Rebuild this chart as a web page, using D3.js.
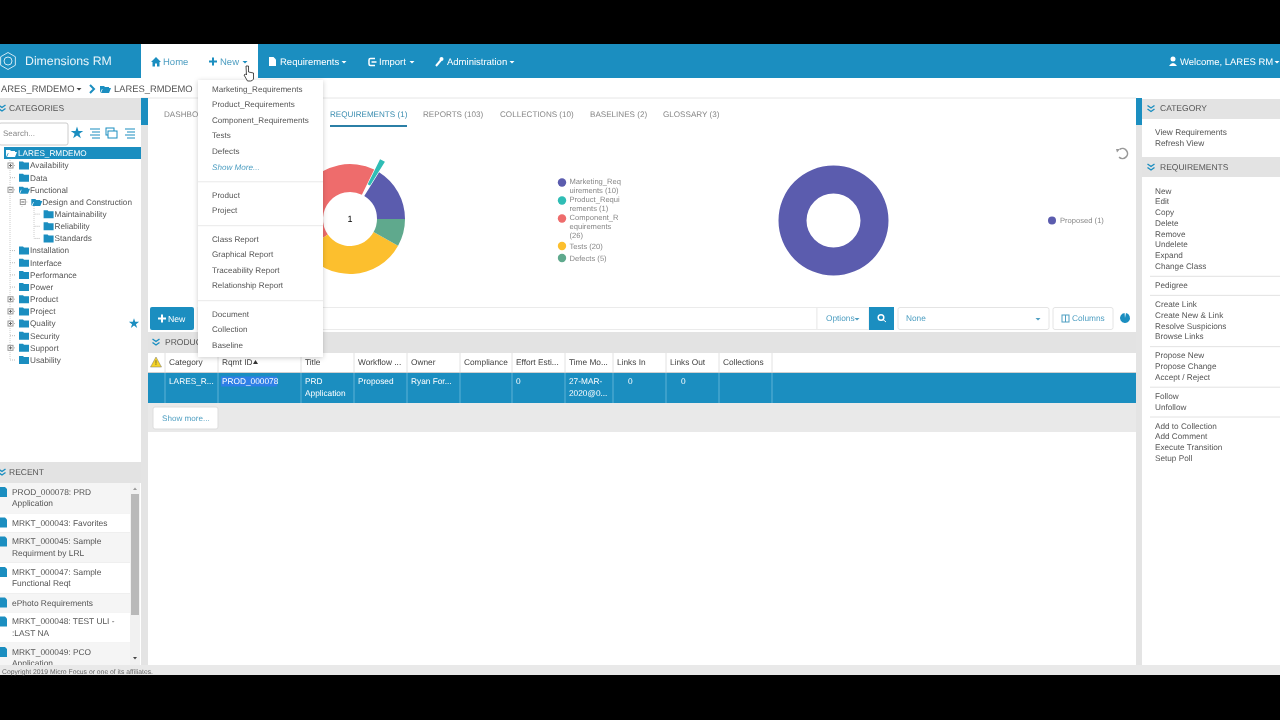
<!doctype html>
<meta charset="utf-8">
<title>Dimensions RM</title>
<style>
    html, body { margin: 0; background: black; }
    svg { display: block; font-family: "Liberation Sans", Arial, sans-serif; filter: blur(0.35px); text-rendering: geometricPrecision; }
</style>
<svg width="1280" height="720" viewBox="0 0 1280 720"></svg>
<script src="https://cdn.jsdelivr.net/npm/d3@7"></script>
<script>
    // chart values
    var reqNames = ['Marketing_Requirements', 'Product_Requirements', 'Component_Requirements', 'Tests', 'Defects'];
    var reqCounts = [10, 1, 26, 20, 5];
    var reqColors = ['#5b5cae', '#2fbdb5', '#ee6c6c', '#fcbf2e', '#5fa98d'];
    var reqLegend = [['Marketing_Req', 'uirements (10)'], ['Product_Requi', 'rements (1)'], ['Component_R', 'equirements', '(26)'], ['Tests (20)'], ['Defects (5)']];
    var stateNames = ['Proposed'];
    var stateCounts = [1];
    var stateColors = ['#5b5cae'];

    // page text
    var navItems = ['Requirements', 'Import', 'Administration'];
    var tabs = ['REQUIREMENTS (1)', 'REPORTS (103)', 'COLLECTIONS (10)', 'BASELINES (2)', 'GLOSSARY (3)'];
    var treeLabels = ['Availability', 'Data', 'Functional', 'Design and Construction', 'Maintainability', 'Reliability', 'Standards', 'Installation', 'Interface', 'Performance', 'Power', 'Product', 'Project', 'Quality', 'Security', 'Support', 'Usability'];
    var treeDepth = [1, 1, 1, 2, 3, 3, 3, 1, 1, 1, 1, 1, 1, 1, 1, 1, 1];
    var treeExpand = ['+', '', '-', '-', '', '', '', '', '', '', '', '+', '+', '+', '', '+', ''];
    var recentLines = [['PROD_000078: PRD', 'Application'], ['MRKT_000043: Favorites'], ['MRKT_000045: Sample', 'Requirment by LRL'], ['MRKT_000047: Sample', 'Functional Reqt'], ['ePhoto Requirements'], ['MRKT_000048: TEST ULI -', ':LAST NA'], ['MRKT_000049: PCO', 'Application']];
    var menuGroups = [
        ['Marketing_Requirements', 'Product_Requirements', 'Component_Requirements', 'Tests', 'Defects', 'Show More...'],
        ['Product', 'Project'],
        ['Class Report', 'Graphical Report', 'Traceability Report', 'Relationship Report'],
        ['Document', 'Collection', 'Baseline']
    ];
    var actionGroups = [
        ['New', 'Edit', 'Copy', 'Delete', 'Remove', 'Undelete', 'Expand', 'Change Class'],
        ['Pedigree'],
        ['Create Link', 'Create New & Link', 'Resolve Suspicions', 'Browse Links'],
        ['Propose New', 'Propose Change', 'Accept / Reject'],
        ['Follow', 'Unfollow'],
        ['Add to Collection', 'Add Comment', 'Execute Transition', 'Setup Poll']
    ];
    var columns = ['Category', 'Rqmt ID', 'Title', 'Workflow ...', 'Owner', 'Compliance', 'Effort Esti...', 'Time Mo...', 'Links In', 'Links Out', 'Collections'];
    var columnEdges = [165, 218, 301, 354, 407, 460, 512, 565, 613, 666, 719, 772];
    var rowCells = [['LARES_R...'], ['PROD_000078'], ['PRD', 'Application'], ['Proposed'], ['Ryan For...'], [''], ['0'], ['27-MAR-', '2020@0...'], ['0'], ['0'], ['']];

    var blue = '#1b8ec0';
    var grey = '#e3e3e3';
    var ink = '#555';
    var svg = d3.select('svg');

    function rect(g, x, y, w, h, fill, stroke) {
        return g.append('rect').attr('x', x).attr('y', y).attr('width', w).attr('height', h)
            .attr('fill', fill).attr('stroke', stroke || 'none');
    }

    function text(g, x, y, s, size, fill, anchor) {
        return g.append('text').attr('x', x).attr('y', y).attr('dy', '0.35em')
            .attr('font-size', size).attr('fill', fill || ink)
            .attr('text-anchor', anchor || 'start').text(s);
    }

    function line(g, x1, y1, x2, y2, color) {
        return g.append('line').attr('x1', x1).attr('y1', y1).attr('x2', x2).attr('y2', y2)
            .attr('stroke', color || '#ddd');
    }

    function caret(g, x, y, color) {
        g.append('path').attr('d', 'M' + (x - 2.5) + ',' + (y - 1) + 'h5l-2.5,2.5z').attr('fill', color);
    }

    function folder(g, x, y, open, color) {
        g.append('path').attr('fill', color || blue)
            .attr('d', open
                ? 'M' + x + ',' + (y + 4) + 'v-7h4l1,1h4v2h-7l-2,4zM' + (x + 1) + ',' + (y + 4) + 'l2,-5h8l-2,5z'
                : 'M' + x + ',' + (y + 4) + 'v-8h4l1,1h5v7z');
    }

    function chevrons(g, x, y) {
        g.append('path').attr('fill', 'none').attr('stroke', blue).attr('stroke-width', 1.4)
            .attr('d', 'M' + (x - 3.5) + ',' + (y - 3) + 'l3.5,2.5l3.5,-2.5M' + (x - 3.5) + ',' + (y + 0.5) + 'l3.5,2.5l3.5,-2.5');
    }

    function plus(g, x, y, color) {
        g.append('path').attr('stroke', color).attr('stroke-width', 2)
            .attr('d', 'M' + (x - 4) + ',' + y + 'h8M' + x + ',' + (y - 4) + 'v8');
    }

    function star(g, x, y, r) {
        g.append('path').attr('fill', blue).attr('transform', 'translate(' + x + ',' + y + ')')
            .attr('d', d3.symbol(d3.symbolStar, r * r * 3)());
    }

    function listIcon(g, x, y) {
        g.append('path').attr('stroke', blue).attr('stroke-width', 1.2)
            .attr('d', d3.range(4).map(function (i) {
                return 'M' + (x - 5 + (i % 2) * 2) + ',' + (y - 4 + i * 3) + 'h' + (10 - (i % 2) * 2);
            }).join(''));
    }

    // page background
    rect(svg, 0, 0, 1280, 720, 'black');
    rect(svg, 0, 44, 1280, 631, 'white');

    // top bar
    var topBar = svg.append('g');
    rect(topBar, 0, 44, 1280, 34, blue);
    rect(topBar, 141, 44, 117, 34, 'white');
    topBar.append('path').attr('fill', 'none').attr('stroke', '#cfe8f3').attr('transform', 'translate(8,61)')
        .attr('d', d3.line()(d3.range(7).map(function (i) {
            var a = i * Math.PI / 3;
            return [8.5 * Math.sin(a), -8.5 * Math.cos(a)];
        })));
    topBar.append('circle').attr('cx', 8).attr('cy', 61).attr('r', 4).attr('fill', 'none').attr('stroke', '#cfe8f3');
    text(topBar, 25, 61, 'Dimensions RM', 12.3, '#e8f4f9');
    topBar.append('path').attr('fill', blue).attr('d', 'M151,62l5,-5l5,5h-1.5v4.5h-2.5v-3h-2v3h-2.5v-4.5z');
    text(topBar, 163, 61.5, 'Home', 9.5, '#4f9fc2');
    plus(topBar, 213, 61.5, blue);
    text(topBar, 220, 61.5, 'New', 9.5, '#4f9fc2');
    caret(topBar, 245, 62, blue);
    [280, 379, 447].forEach(function (x, i) {
        text(topBar, x, 61.5, navItems[i], 9.5, 'white');
        caret(topBar, x + [64, 33, 65][i], 62, 'white');
    });
    topBar.append('path').attr('fill', 'white').attr('d', 'M269,57h4.5l2.5,2.5v6.5h-7z');
    topBar.append('path').attr('fill', 'none').attr('stroke', 'white').attr('stroke-width', 1.5)
        .attr('d', 'M375,58.5h-4.5a1.5,1.5 0 0 0 -1.5,1.5v4a1.5,1.5 0 0 0 1.5,1.5h4.5M371.5,62h5');
    topBar.append('path').attr('stroke', 'white').attr('stroke-width', 2).attr('d', 'M436,66l5,-6');
    topBar.append('circle').attr('cx', 441.5).attr('cy', 59).attr('r', 2).attr('fill', 'white');
    topBar.append('circle').attr('cx', 1173).attr('cy', 59).attr('r', 2.5).attr('fill', 'white');
    topBar.append('path').attr('d', 'M1169,66q4,-6 8,0z').attr('fill', 'white');
    text(topBar, 1180, 61.5, 'Welcome, LARES RM', 9.5, 'white');
    caret(topBar, 1277, 62, 'white');

    // breadcrumb
    var crumb = svg.append('g');
    text(crumb, 1, 89, 'ARES_RMDEMO', 9.4, ink);
    caret(crumb, 79, 89, '#444');
    crumb.append('path').attr('fill', 'none').attr('stroke', blue).attr('stroke-width', 2).attr('d', 'M90,85l4,4l-4,4');
    folder(crumb, 100, 89, true);
    text(crumb, 114, 89, 'LARES_RMDEMO', 9.4, ink);
    line(crumb, 141, 98, 1136, 98, '#e6e6e6');

    // gutters either side of the main area
    rect(svg, 141, 98, 7, 570, '#e4e4e4');
    rect(svg, 1136, 98, 6, 570, '#e4e4e4');
    rect(svg, 141, 98, 7, 27, blue);
    rect(svg, 1136, 98, 6, 27, blue);

    // categories panel
    var left = svg.append('g');
    rect(left, 0, 98, 141, 22, grey);
    chevrons(left, 2, 108);
    text(left, 9, 108.5, 'CATEGORIES', 8.5, ink);
    rect(left, -1, 123, 69, 22, 'white', '#ccc').attr('rx', 2);
    text(left, 3, 133, 'Search...', 8, '#888');
    star(left, 77, 133, 4);
    listIcon(left, 95, 133);
    rect(left, 106, 128, 8, 7, 'none', blue);
    rect(left, 108, 131, 9, 7, 'white', blue);
    listIcon(left, 130, 133);
    rect(left, 4, 147, 137, 12, blue);
    folder(left, 6, 153, true, 'white');
    text(left, 18, 153.5, 'LARES_RMDEMO', 8.2, 'white');

    var treeY = d3.scaleLinear().domain([0, treeLabels.length - 1]).range([165.5, 360]);
    line(left, 10, 160, 10, 360, '#ccc').attr('stroke-dasharray', '1,1');
    line(left, 22, treeY(3), 22, treeY(3) + 6, '#ccc').attr('stroke-dasharray', '1,1');
    line(left, 34, treeY(3) + 4, 34, treeY(6), '#ccc').attr('stroke-dasharray', '1,1');
    treeLabels.forEach(function (label, i) {
        var x = 30 + (treeDepth[i] - 1) * 12.3;
        var y = treeY(i);
        line(left, x - 20, y, x - 14, y, '#bbb').attr('stroke-dasharray', '1,1');
        if (treeExpand[i]) {
            rect(left, x - 22, y - 2.5, 5, 5, 'white', '#999');
            line(left, x - 21, y, x - 18, y, '#666');
            if (treeExpand[i] === '+') line(left, x - 19.5, y - 1.5, x - 19.5, y + 1.5, '#666');
        }
        folder(left, x - 11, y, i === 2 || i === 3);
        text(left, x, y, label, 8.2, ink);
    });
    star(left, 134, treeY(13), 3.3);

    // recent panel
    var recent = svg.append('g');
    rect(recent, 0, 462, 141, 21, grey);
    chevrons(recent, 2, 472);
    text(recent, 9, 472, 'RECENT', 8.5, ink);
    var rowY = 483;
    recentLines.forEach(function (lines, i) {
        var h = lines.length === 2 ? 30.5 : 19;
        rect(recent, 0, rowY, 130, h, i % 2 ? 'white' : '#f5f5f5');
        line(recent, 0, rowY + h, 130, rowY + h, '#e8e8e8');
        recent.append('path').attr('fill', blue).attr('d', 'M0,' + (rowY + 4) + 'h5l2,2v8h-7z');
        lines.forEach(function (s, j) {
            text(recent, 12, rowY + (lines.length === 2 ? 9 : 9.5) + j * 11.5, s, 8.4, ink);
        });
        rowY += h;
    });
    rect(recent, 130, 483, 10, 182, '#f1f1f1');
    rect(recent, 131, 494, 8, 121, '#b9b9b9');
    recent.append('path').attr('fill', '#999').attr('d', 'M133,490l2,-2.5l2,2.5z');
    recent.append('path').attr('fill', '#444').attr('d', 'M133,657l2,2.5l2,-2.5z');

    // bottom strip
    rect(svg, 0, 665, 1280, 10, '#e9e9e9');
    text(svg, 2, 671.5, 'Copyright 2019 Micro Focus or one of its affiliates.', 6.8, '#666');

    // tabs
    var tabBar = svg.append('g');
    text(tabBar, 164, 114, 'DASHBO', 8.1, '#888');
    [330, 423, 500, 590, 663].forEach(function (x, i) {
        text(tabBar, x, 114, tabs[i], 8.1, i === 0 ? '#3b8db0' : '#888');
    });
    rect(tabBar, 330, 125, 77, 2, '#2b7fa6');

    // donut charts
    var arc = d3.arc().innerRadius(27).outerRadius(55);
    var pie = d3.pie().sort(null).startAngle(Math.PI / 2).endAngle(Math.PI / 2 - 2 * Math.PI);

    var reqChart = svg.append('g').attr('transform', 'translate(350,219)');
    reqChart.selectAll('path').data(pie(reqCounts)).enter().append('path')
        .attr('d', arc)
        .attr('fill', function (d, i) { return reqColors[i]; })
        .attr('transform', function (d, i) {
            if (i !== 1) return null; // the hovered slice sits out of the ring
            var mid = (d.startAngle + d.endAngle) / 2;
            return 'translate(' + 12 * Math.sin(mid) + ',' + (-12 * Math.cos(mid)) + ')';
        });
    text(reqChart, 0, 0, d3.format('d')(stateCounts[0]), 9, 'black', 'middle');

    var legend = svg.append('g');
    var legendY = 181;
    reqLegend.forEach(function (lines, i) {
        legend.append('circle').attr('cx', 562).attr('cy', i < 3 ? legendY + 1.5 : legendY).attr('r', 4.2).attr('fill', reqColors[i]);
        lines.forEach(function (s, j) {
            text(legend, 569.5, legendY + j * 9, s, 7.6, '#888');
        });
        legendY += lines.length * 9 + (i === 2 ? 2 : (i === 3 ? 3 : 0));
    });

    var stateChart = svg.append('g').attr('transform', 'translate(833.5,220.5)');
    stateChart.selectAll('path').data(pie(stateCounts)).enter().append('path')
        .attr('d', arc)
        .attr('fill', function (d, i) { return stateColors[i]; });
    legend.append('circle').attr('cx', 1052).attr('cy', 220.5).attr('r', 4).attr('fill', stateColors[0]);
    text(legend, 1060, 220, stateNames[0] + ' (' + stateCounts[0] + ')', 7.6, '#888');

    svg.append('path').attr('fill', 'none').attr('stroke', '#999').attr('stroke-width', 1.6)
        .attr('d', d3.arc().innerRadius(5).outerRadius(5).startAngle(-0.6).endAngle(3.9)())
        .attr('transform', 'translate(1122.5,153.5)');
    svg.append('path').attr('fill', '#999').attr('d', 'M1116,149l4,0l-3,3.5z');

    // toolbar
    var bar = svg.append('g');
    rect(bar, 150, 307, 44, 23, blue).attr('rx', 2);
    plus(bar, 162, 318.5, 'white');
    text(bar, 168, 318.5, 'New', 8.7, 'white');
    rect(bar, 198, 307.5, 619, 22, 'white', '#ebebeb');
    rect(bar, 817, 307.5, 52, 22, 'white', '#ebebeb');
    text(bar, 826, 318.5, 'Options', 8.3, '#4f9fc2');
    caret(bar, 857, 319, '#4f9fc2');
    rect(bar, 869, 307, 25, 23, blue);
    bar.append('circle').attr('cx', 881).attr('cy', 317.5).attr('r', 2.8).attr('fill', 'none').attr('stroke', 'white').attr('stroke-width', 1.5);
    line(bar, 883, 319.5, 886, 322, 'white');
    rect(bar, 898, 307.5, 151, 22, 'white', '#e4e4e4').attr('rx', 2);
    text(bar, 906, 318.5, 'None', 8.3, '#4f9fc2');
    caret(bar, 1038, 319, '#4f9fc2');
    rect(bar, 1053, 307.5, 60, 22, 'white', '#e4e4e4').attr('rx', 2);
    rect(bar, 1062, 315, 7, 7, 'none', '#4f9fc2');
    line(bar, 1065.5, 315, 1065.5, 322, '#4f9fc2');
    text(bar, 1072, 318.5, 'Columns', 8.3, '#4f9fc2');
    bar.append('path').attr('fill', blue).attr('transform', 'translate(1125,318)')
        .attr('d', d3.arc().innerRadius(0).outerRadius(5).startAngle(0.2).endAngle(6.2)());

    // results table
    var table = svg.append('g');
    rect(table, 148, 332, 988, 21, grey);
    chevrons(table, 156, 342);
    text(table, 165, 342, 'PRODUC', 8.5, ink);
    rect(table, 148, 353, 988, 20, 'white');
    rect(table, 148, 373, 988, 30, blue);
    rect(table, 148, 403, 988, 29, '#e9e9e9');
    table.append('path').attr('d', 'M156,357l5.5,10h-11z').attr('fill', '#f5d327').attr('stroke', '#777').attr('stroke-width', 0.5);
    text(table, 156, 363, '!', 7, '#333', 'middle');
    columnEdges.forEach(function (x) {
        line(table, x, 353, x, 373, '#e2e2e2');
        line(table, x, 373, x, 403, '#5fb2d6');
    });
    line(table, 148, 372.5, 1136, 372.5, '#d0d0d0');
    columns.forEach(function (name, i) {
        var x = columnEdges[i] + 4;
        text(table, x, 362, name, 8.3, '#444');
        var pad = (i === 8 || i === 9) ? 11 : 0;
        if (i === 1) rect(table, x - 1, 376.5, 56, 10, '#2f7fe6');
        rowCells[i].forEach(function (s, j) {
            text(table, x + pad, 381.5 + j * 11.5, s, 8.3, 'white');
        });
    });
    table.append('path').attr('d', 'M253,364l2.5,-4l2.5,4z').attr('fill', '#333');
    rect(table, 153, 407, 65, 22, 'white', '#ddd').attr('rx', 2);
    text(table, 162, 418, 'Show more...', 8.1, '#4f9fc2');

    // right action panel
    var right = svg.append('g');
    rect(right, 1142, 99, 138, 20, grey);
    chevrons(right, 1151, 108.5);
    text(right, 1160, 108.5, 'CATEGORY', 8.5, ink);
    text(right, 1155, 132.5, 'View Requirements', 8.3, ink);
    text(right, 1155, 143.5, 'Refresh View', 8.3, ink);
    rect(right, 1142, 157, 138, 20, grey);
    chevrons(right, 1151, 167);
    text(right, 1160, 167, 'REQUIREMENTS', 8.5, ink);
    var actionY = 190.8;
    actionGroups.forEach(function (group, i) {
        group.forEach(function (s) {
            text(right, 1155, actionY, s, 8.2, ink);
            actionY += 10.75;
        });
        if (i < actionGroups.length - 1) {
            line(right, 1150, actionY - 0.5, 1280, actionY - 0.5, '#e2e2e2');
            actionY += 8.3;
        }
    });

    // open "New" menu, drawn last so it covers the first donut
    var menu = svg.append('g');
    var shadow = svg.append('defs').append('filter').attr('id', 'shadow')
        .attr('x', '-10%').attr('y', '-5%').attr('width', '120%').attr('height', '110%');
    shadow.append('feDropShadow').attr('dx', 0).attr('dy', 1).attr('stdDeviation', 2.5).attr('flood-color', '#000').attr('flood-opacity', 0.2);
    rect(menu, 198, 80, 125, 277, 'white').attr('filter', 'url(#shadow)');
    var menuY = 89;
    menuGroups.forEach(function (group, i) {
        group.forEach(function (s) {
            var t = text(menu, 212, menuY, s, 8.1, s === 'Show More...' ? '#4f9fc2' : ink);
            if (s === 'Show More...') t.attr('font-style', 'italic');
            menuY += 15.55;
        });
        if (i < menuGroups.length - 1) {
            line(menu, 198, menuY - 0.5, 323, menuY - 0.5, '#e9e9e9');
            menuY += 12.8;
        }
    });

    // mouse pointer
    svg.append('path').attr('fill', 'white').attr('stroke', '#222').attr('stroke-width', 0.8)
        .attr('d', 'M246,66h2.5v6l5,1v6q-1,2 -3,2h-3l-3.5,-6l1.5,-1l1,1z');
</script>
